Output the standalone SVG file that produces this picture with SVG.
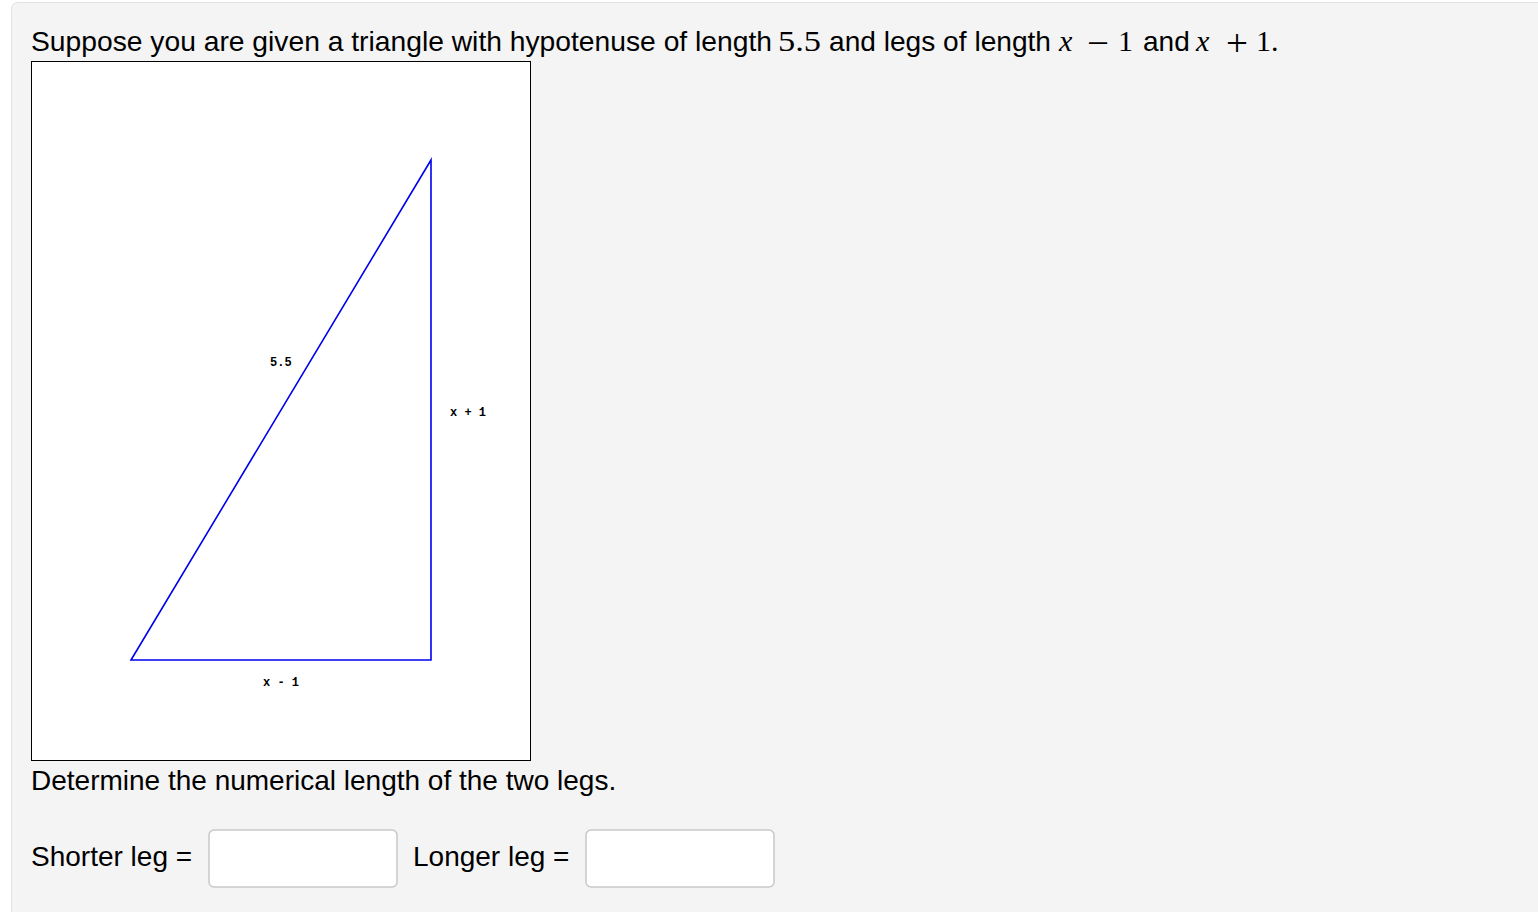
<svg xmlns="http://www.w3.org/2000/svg" width="1538" height="912" viewBox="0 0 1538 912">
<style>
.t{font-family:"Liberation Sans",Arial,sans-serif;font-size:28px;fill:#000}
.m{font-family:"Liberation Serif","Times New Roman",serif;font-size:30px;fill:#000}
.op{font-family:"Liberation Serif","Times New Roman",serif;font-size:38px;fill:#000}
.i{font-style:italic}
.lbl{font-family:"Liberation Mono","DejaVu Sans Mono",monospace;font-size:12px;font-weight:bold;fill:#000}
.inp{fill:#fff;stroke:#c8c8c8;stroke-width:1.5}
</style>
<rect x="0" y="0" width="1538" height="912" fill="#fff"/>
<rect x="11.5" y="2.5" width="1540" height="920" rx="6" fill="#f4f4f4" stroke="#e2e2e2" stroke-width="1"/>
<g id="title">
<text y="51" class="t"><tspan x="31" y="51" textLength="741" lengthAdjust="spacingAndGlyphs">Suppose you are given a triangle with hypotenuse of length</tspan><tspan x="778" y="51" class="m" textLength="43" lengthAdjust="spacingAndGlyphs">5.5</tspan><tspan x="829" y="51" textLength="222" lengthAdjust="spacingAndGlyphs">and legs of length</tspan><tspan x="1059" y="51" class="m i">x</tspan><tspan x="1087" y="56" class="op" textLength="22" lengthAdjust="spacingAndGlyphs">−</tspan><tspan x="1118" y="51" class="m">1</tspan><tspan x="1143" y="51">and</tspan><tspan x="1196" y="51" class="m i">x</tspan><tspan x="1226" y="56" class="op" textLength="22" lengthAdjust="spacingAndGlyphs">+</tspan><tspan x="1256" y="51" class="m">1.</tspan></text>
</g>
<g id="figure">
<rect x="31.5" y="61.5" width="499" height="699" fill="#fff" stroke="#000" stroke-width="1"/>
<polygon points="131,660 431,160 431,660" fill="none" stroke="#0000f0" stroke-width="1.6"/>
<text x="270" y="366" class="lbl">5.5</text>
<text x="450" y="416" class="lbl" xml:space="preserve">x + 1</text>
<text x="263" y="686" class="lbl" xml:space="preserve">x - 1</text>
</g>
<g id="question">
<text x="31" y="790" class="t">Determine the numerical length of the two legs.</text>
</g>
<g id="answers">
<text x="31" y="866" class="t">Shorter leg =</text>
<rect x="209" y="830" width="188" height="57" rx="5" class="inp"/>
<text x="413" y="866" class="t">Longer leg =</text>
<rect x="586" y="830" width="188" height="57" rx="5" class="inp"/>
</g>
</svg>
